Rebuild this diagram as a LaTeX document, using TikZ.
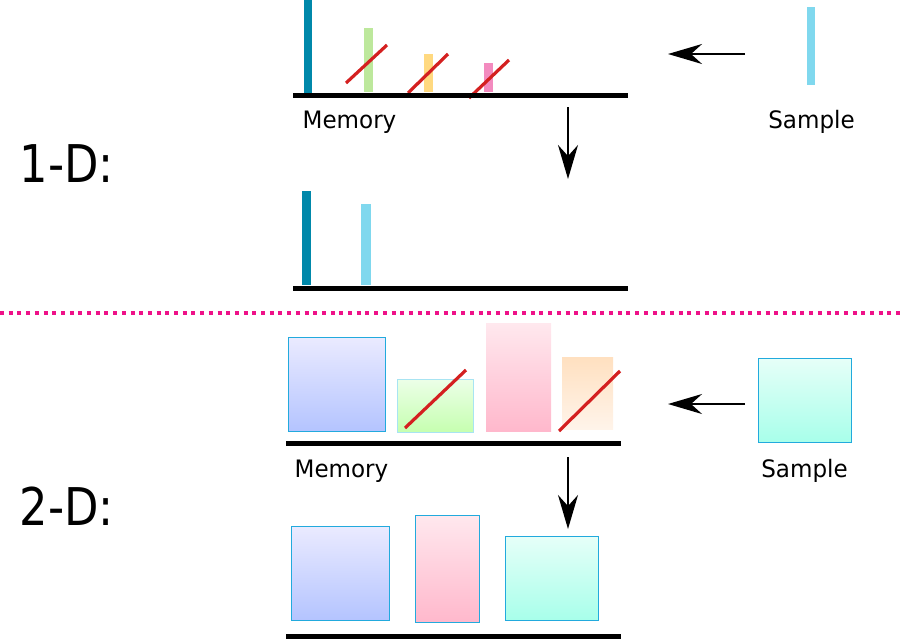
\documentclass[tikz,border=0pt]{standalone}
\usepackage{fontspec}
\setmainfont{DejaVu Sans}
\newfontfamily\labfont[FakeStretch=0.96]{DejaVu Sans}
\newfontfamily\bigfont[FakeStretch=0.86]{DejaVu Sans}
\usetikzlibrary{arrows.meta}
\definecolor{tealdark}{HTML}{0088AA}
\definecolor{lightblue}{HTML}{80D8EE}
\definecolor{bargreen}{HTML}{BDE89C}
\definecolor{baryellow}{HTML}{FFD980}
\definecolor{barpink}{HTML}{F38BBF}
\definecolor{slash}{HTML}{D42020}
\definecolor{sep}{HTML}{EE1188}
\definecolor{edgeblue}{HTML}{22AADD}
\definecolor{edgelight}{HTML}{A8E4F2}
\tikzset{
  x=1pt, y=-1pt,
  base/.style={line width=5pt, draw=black},
  bar/.style={draw=none},
  cross/.style={draw=slash, line width=3.2pt},
  arr/.style={line width=2pt, -{Stealth[length=34pt,width=20pt,inset=11pt]}},
  lab/.style={font=\labfont\fontsize{24}{24}\selectfont, anchor=base},
  big/.style={font=\bigfont\fontsize{52}{52}\selectfont, anchor=base},
  blueshade/.style={top color=blue!8, bottom color={rgb,255:red,180;green,196;blue,255}, draw=edgeblue, line width=1pt},
  greenshade/.style={top color={rgb,255:red,236;green,255;blue,232}, bottom color={rgb,255:red,198;green,255;blue,176}, draw=edgelight, line width=1pt},
  pinkshade/.style={top color={rgb,255:red,255;green,232;blue,238}, bottom color={rgb,255:red,255;green,184;blue,204}},
  orangeshade/.style={top color={rgb,255:red,255;green,224;blue,192}, bottom color={rgb,255:red,255;green,244;blue,234}},
  cyanshade/.style={top color={rgb,255:red,230;green,255;blue,248}, bottom color={rgb,255:red,168;green,255;blue,234}, draw=edgeblue, line width=1pt},
}
\begin{document}
\begin{tikzpicture}
\useasboundingbox (0,0) rectangle (904,641);
% ---------- titles ----------
\node[big] (t1) at (67,182) {1-D:};
\node[big] (t2) at (67,525) {2-D:};
% top memory
\fill[tealdark] (304,0) rectangle (312,93);
\fill[bargreen] (364,28) rectangle (373,92);
\fill[baryellow] (424,54) rectangle (433,92);
\fill[barpink] (484,63) rectangle (493,92);
\draw[cross] (346,83) -- (387,45);
\draw[cross] (408,93) -- (448,54);
\draw[cross] (469,98) -- (509,60);
\draw[base] (293,95) -- (628,95);
\node[lab] (mem1) at (349.5,128) {Memory};
% sample
\fill[lightblue] (807,7) rectangle (815,85);
\node[lab] (smp1) at (811.5,128) {Sample};
\coordinate (a1s) at (745,54);
\coordinate (a1e) at (668,54);
\draw[arr] (a1s) -- (a1e);
\coordinate (d1s) at (568,107);
\coordinate (d1e) at (568,179);
\draw[arr] (d1s) -- (d1e);
% result memory
\fill[tealdark] (302,191) rectangle (311,285);
\fill[lightblue] (361,204) rectangle (371,285);
\draw[base] (293,288) -- (628,288);
% ---------- separator ----------
\coordinate (sl) at (0,313);
\coordinate (sr) at (904,313);
\draw[sep, line width=4pt, dash pattern=on 4pt off 4.7pt] (sl) -- (sr);
% ---------- 2-D ----------
\shade[blueshade] (288,337) rectangle (385,431);
\shade[greenshade] (397,379) rectangle (473,432);
\shade[pinkshade] (486,323) rectangle (551,431);
\shade[orangeshade] (562,357) rectangle (613,429);
\draw[cross] (405,428) -- (466,370);
\draw[cross] (559,431) -- (620,371);
\draw[base] (286,443) -- (621,443);
\node[lab] (mem2) at (341.5,477) {Memory};
\shade[cyanshade] (758,358) rectangle (851,442);
\node[lab] (smp2) at (804.5,477) {Sample};
\coordinate (a2s) at (745,404);
\coordinate (a2e) at (668,404);
\draw[arr] (a2s) -- (a2e);
\coordinate (d2s) at (568,457);
\coordinate (d2e) at (568,529);
\draw[arr] (d2s) -- (d2e);
% result
\shade[blueshade] (291,526) rectangle (389,620);
\shade[pinkshade, draw=edgeblue, line width=1pt] (415,515) rectangle (479,622);
\shade[cyanshade] (505,536) rectangle (598,620);
\draw[base] (286,636) -- (621,636);
\end{tikzpicture}
\end{document}
